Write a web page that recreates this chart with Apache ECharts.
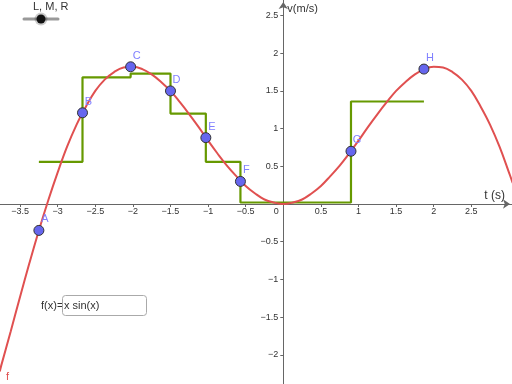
<!DOCTYPE html>
<html><head><meta charset="utf-8">
<script src="https://cdn.jsdelivr.net/npm/echarts@6/dist/echarts.min.js"></script>
<style>html,body{margin:0;padding:0;background:#fff}#c{width:512px;height:384px}</style>
</head><body><div id="c"></div>
<script>
// curve f(t) = t sin t
const curveT = [-3.77,-3.75,-3.625,-3.5,-3.375,-3.25,-3.125,-3,-2.875,-2.75,-2.625,-2.5,-2.375,-2.25,-2.125,-2,-1.875,-1.75,-1.625,-1.5,-1.375,-1.25,-1.125,-1,-0.875,-0.75,-0.625,-0.5,-0.375,-0.25,-0.125,0,0.125,0.25,0.375,0.5,0.625,0.75,0.875,1,1.125,1.25,1.375,1.5,1.625,1.75,1.875,2,2.125,2.25,2.375,2.5,2.625,2.75,2.875,3,3.05];
const curveV = [-2.22,-2.14,-1.69,-1.23,-0.78,-0.35,0.05,0.42,0.76,1.05,1.29,1.50,1.65,1.75,1.81,1.82,1.79,1.72,1.62,1.50,1.35,1.19,1.02,0.84,0.67,0.51,0.37,0.24,0.14,0.06,0.02,0,0.02,0.06,0.14,0.24,0.37,0.51,0.67,0.84,1.02,1.19,1.35,1.50,1.62,1.72,1.79,1.82,1.81,1.75,1.65,1.50,1.29,1.05,0.76,0.42,0.28];
// points A..H on the curve
const pointNames = ['A','B','C','D','E','F','G','H'];
const pointT = [-3.25,-2.67,-2.03,-1.50,-1.03,-0.57,0.90,1.87];
const pointV = [-0.35,1.21,1.82,1.50,0.88,0.30,0.70,1.79];
// Riemann step heights (midpoint rule), one per interval; last repeats for end
const stepV = [0.56,1.68,1.73,1.20,0.56,0.02,1.36,1.36];
// axis tick labels
const xTicks = [-3.5,-3,-2.5,-2,-1.5,-1,-0.5,0.5,1,1.5,2,2.5];
const yTicks = [-2,-1.5,-1,-0.5,0.5,1,1.5,2,2.5];

const X_MIN = -3.767, X_MAX = 3.041, Y_MIN = -2.387, Y_MAX = 2.706;
const W = 512, H = 384;
// place axes on the zero lines
const xAxisOffset = -(H * (-Y_MIN) / (Y_MAX - Y_MIN));
const yAxisOffset = -(W * (-X_MIN) / (X_MAX - X_MIN));

const fmt = v => (v < 0 ? '\u2212' + String(-v) : String(v));
const FONT = 'Liberation Sans';

const chart = echarts.init(document.getElementById('c'), null, {renderer: 'canvas'});
chart.setOption({
  animation: false,
  backgroundColor: '#fff',
  textStyle: {fontFamily: FONT},
  grid: {left: 0, right: 0, top: 0, bottom: 0, containLabel: false, outerBoundsMode: 'none'},
  xAxis: {
    type: 'value', min: X_MIN, max: X_MAX, position: 'bottom', offset: xAxisOffset,
    axisLine: {onZero: false, lineStyle: {color: '#666', width: 1}, symbol: ['none', 'arrow'], symbolSize: [7, 7], symbolOffset: [0, -2]},
    axisTick: {show: true, length: 3, customValues: xTicks, lineStyle: {color: '#666'}},
    axisLabel: {
      customValues: xTicks.concat([0]), fontSize: 9, color: '#333', margin: 3, fontFamily: FONT,
      formatter: v => (v === 0 ? '{z|0}' : fmt(v)),
      rich: {z: {fontSize: 9, color: '#333', padding: [0, 14, 0, 0], fontFamily: FONT}}
    },
    splitLine: {show: false},
    name: 't (s)', nameLocation: 'end', nameGap: -7,
    nameTextStyle: {align: 'right', verticalAlign: 'bottom', padding: [0, 0, 2, 0], fontSize: 12, color: '#333', fontFamily: FONT}
  },
  yAxis: {
    type: 'value', min: Y_MIN, max: Y_MAX, position: 'left', offset: yAxisOffset,
    axisLine: {onZero: false, lineStyle: {color: '#666', width: 1}, symbol: ['none', 'arrow'], symbolSize: [7, 7], symbolOffset: [0, -2]},
    axisTick: {show: true, length: 3, customValues: yTicks, lineStyle: {color: '#666'}},
    axisLabel: {customValues: yTicks, fontSize: 9, color: '#333', margin: 5, formatter: fmt, fontFamily: FONT},
    splitLine: {show: false},
    name: 'v(m/s)', nameLocation: 'end', nameGap: -14,
    nameTextStyle: {align: 'left', verticalAlign: 'bottom', padding: [0, 0, 0, 4], fontSize: 11, color: '#333', fontFamily: FONT}
  },
  series: [
    {
      type: 'line', step: 'end', showSymbol: false, symbol: 'none', z: 2,
      lineStyle: {color: '#669900', width: 2.2},
      data: pointT.map((t, i) => [t, stepV[i]])
    },
    {
      type: 'line', smooth: 0.4, showSymbol: false, symbol: 'none', z: 3,
      lineStyle: {color: '#e05050', width: 2},
      data: curveT.map((t, i) => [t, curveV[i]])
    },
    {
      type: 'scatter', symbolSize: 10, z: 4,
      itemStyle: {color: '#6666ee', borderColor: '#333', borderWidth: 1, opacity: 1},
      label: {show: true, position: 'top', distance: 0, offset: [6, 0], color: '#8080ff', fontSize: 11, fontFamily: FONT, formatter: p => p.name},
      data: pointNames.map((n, i) => ({name: n, value: [pointT[i], pointV[i]]}))
    }
  ],
  graphic: [
    {type: 'text', left: 33, top: 1, style: {text: 'L, M, R', fontSize: 11, fill: '#333', fontFamily: FONT}},
    {type: 'line', shape: {x1: 24, y1: 19, x2: 58, y2: 19}, style: {stroke: '#999', lineWidth: 3, lineCap: 'round'}},
    {type: 'circle', shape: {cx: 41, cy: 19, r: 6.5}, style: {fill: 'rgba(0,0,0,0.2)'}},
    {type: 'circle', shape: {cx: 41, cy: 19, r: 4.5}, style: {fill: '#111'}},
    {type: 'text', left: 41, top: 300, style: {text: 'f(x)=', fontSize: 11, fill: '#333', fontFamily: FONT}},
    {type: 'rect', shape: {x: 62.5, y: 295.5, width: 84, height: 20, r: 3}, style: {fill: '#fff', stroke: '#aaa', lineWidth: 1}},
    {type: 'text', left: 64, top: 300, style: {text: 'x sin(x)', fontSize: 11, fill: '#333', fontFamily: FONT}},
    {type: 'text', left: 6, top: 371, style: {text: 'f', fontSize: 11, fill: '#e05050', fontFamily: FONT}}
  ]
});
</script>
</body></html>
